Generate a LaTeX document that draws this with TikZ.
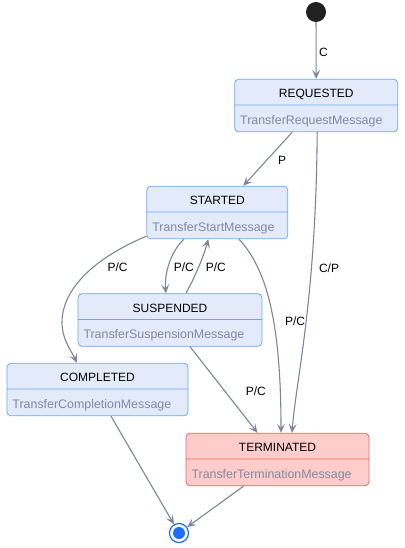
\documentclass[tikz,border=0pt]{standalone}
\usepackage{fontspec}
\setmainfont{Liberation Sans}
\usetikzlibrary{shapes,arrows.meta}

\definecolor{boxfill}{HTML}{E3EBFA}
\definecolor{boxline}{HTML}{6EA6F6}
\definecolor{termfill}{HTML}{FFCCCC}
\definecolor{termline}{HTML}{EE6464}
\definecolor{linegray}{HTML}{7D8498}
\definecolor{msggray}{HTML}{80899E}
\definecolor{endblue}{HTML}{1A6EFA}
\newcommand{\ttl}[1]{\rule[-7pt]{0pt}{25pt}#1}
\newcommand{\msg}[1]{\rule[-7pt]{0pt}{26pt}{\fontsize{12.4}{14}\selectfont\textcolor{msggray}{#1}}}

\begin{document}
\begin{tikzpicture}[x=1pt,y=-1pt]
	\tikzset{state/.style={rectangle split,rectangle split parts=2,rectangle split part align={center,left},
		draw=boxline,fill=boxfill,rounded corners=4pt,line width=0.8pt,
		inner ysep=0pt,inner xsep=5.5pt,font=\fontsize{12}{14}\selectfont}}
	\tikzset{termstate/.style={state,draw=termline,fill=termfill}}
	\tikzset{trans/.style={draw=linegray,line width=1.1pt,-{Stealth[length=9pt,width=8pt,inset=4pt]}}}
	\tikzset{lbl/.style={font=\fontsize{12}{14}\selectfont,inner sep=0pt}}
	\useasboundingbox (0,0) rectangle (404,548);
	% states
	\node[circle,fill=black!87,minimum size=20pt,inner sep=0pt] (init) at (316,12) {};
	\node[state,minimum width=163pt] (req) at (316.2,105.5) {\ttl{REQUESTED}\nodepart{two}\msg{TransferRequestMessage}};
	\node[state,minimum width=141pt] (started) at (217.3,212.5) {\ttl{STARTED}\nodepart{two}\msg{TransferStartMessage}};
	\node[state,minimum width=184pt] (susp) at (170,320) {\ttl{SUSPENDED}\nodepart{two}\msg{TransferSuspensionMessage}};
	\node[state,minimum width=181pt] (compl) at (97.5,389.5) {\ttl{COMPLETED}\nodepart{two}\msg{TransferCompletionMessage}};
	\node[termstate,minimum width=183pt] (term) at (277.5,459.5) {\ttl{TERMINATED}\nodepart{two}\msg{TransferTerminationMessage}};
	\node[circle,draw=endblue,fill=white,line width=1.2pt,minimum size=19pt,inner sep=0pt] (final) at (179,533) {};
	\node[circle,fill=endblue,minimum size=12pt,inner sep=0pt] (finaldot) at (final) {};
	% transitions
	\draw[trans] (init) -- (req.north);
	\draw[trans] ([xshift=-24pt]req.south) -- ([xshift=26pt]started.north);
	\draw[trans] ([xshift=1pt]req.south) .. controls (316,300) and (296,380) .. ([xshift=14.5pt]term.north);
	\draw[trans] ([yshift=3pt]started.south west) .. controls (85,262) and (62,295) .. (62,322) .. controls (62,340) and (72,352) .. ([xshift=-20.5pt]compl.north);
	\draw[trans] ([xshift=-33.3pt]started.south) .. controls (172,250) and (164,272) .. ([xshift=-4pt]susp.north);
	\draw[trans] ([xshift=16pt]susp.north) .. controls (196,275) and (204,255) .. ([xshift=-9pt]started.south);
	\draw[trans] ([xshift=21.7pt]started.south) .. controls (266,268) and (281,320) .. ([xshift=3.5pt]term.north);
	\draw[trans] ([xshift=20pt]susp.south) -- ([xshift=-20pt]term.north);
	\draw[trans] ([xshift=13.5pt]compl.south) -- (final);
	\draw[trans] ([xshift=-34pt]term.south) -- (final);
	% labels
	\node[lbl,anchor=west] (lC) at (319,52) {C};
	\node[lbl] (lP) at (282,160) {P};
	\node[lbl] (lCP) at (329,268) {C/P};
	\node[lbl] (lPC1) at (117.5,267) {P/C};
	\node[lbl] (lPC2) at (183.8,267) {P/C};
	\node[lbl] (lPC3) at (215.8,267) {P/C};
	\node[lbl] (lPC4) at (295,321.5) {P/C};
	\node[lbl] (lPC5) at (255.8,391) {P/C};
\end{tikzpicture}
\end{document}
